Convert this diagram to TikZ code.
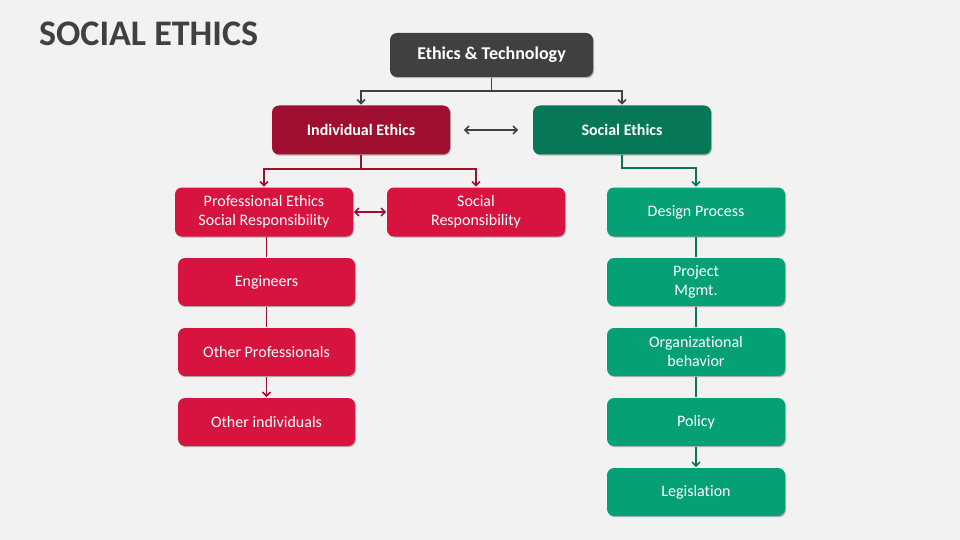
\documentclass[tikz,border=0pt]{standalone}
\usepackage{fontspec}
\setmainfont{Carlito}[Ligatures=NoCommon]
\usetikzlibrary{arrows.meta,shadows}
\definecolor{bgGray}{HTML}{F2F2F2}
\definecolor{titleGray}{HTML}{404040}
\definecolor{techGray}{HTML}{404040}
\definecolor{indivRed}{HTML}{A00E30}
\definecolor{boxRed}{HTML}{D6143F}
\definecolor{socGreen}{HTML}{067858}
\definecolor{boxGreen}{HTML}{06A077}
\tikzset{
  box/.style={rounded corners=7pt, minimum width=178pt, minimum height=49pt, inner sep=2pt,
    text=white, align=center, font=\fontsize{16}{19}\selectfont,
    drop shadow={shadow xshift=1pt, shadow yshift=-1.2pt, opacity=0.25, fill=black}},
  headbox/.style={box, font=\bfseries\fontsize{16}{19}\selectfont},
  tip/.style={-{Straight Barb[length=4pt,width=8pt]}},
  twotips/.style={{Straight Barb[length=4pt,width=8pt]}-{Straight Barb[length=4pt,width=8pt]}},
}
\begin{document}
\begin{tikzpicture}[x=1pt, y=-1pt, line width=1.6pt]
  \fill[bgGray] (0,0) rectangle (960,540);
  \useasboundingbox (0,0) rectangle (960,540);
  \node[anchor=west, text=titleGray, font=\bfseries\fontsize{36}{40}\selectfont] (title) at (35,34) {SOCIAL ETHICS};
  % top level
  \node[headbox, fill=techGray, minimum width=203pt, minimum height=44pt, font=\bfseries\fontsize{18}{21}\selectfont] (tech) at (491.5,55) {Ethics \& Technology};
  \node[headbox, fill=indivRed] (indiv) at (361,130) {Individual Ethics};
  \node[headbox, fill=socGreen] (social) at (622,130) {Social Ethics};
  % individual side
  \node[box, fill=boxRed] (prof) at (264,212) {Professional Ethics\\Social Responsibility};
  \node[box, fill=boxRed] (socresp) at (476,212) {Social\\Responsibility};
  \node[box, fill=boxRed, minimum width=177pt, minimum height=48pt] (eng) at (266.5,282) {Engineers};
  \node[box, fill=boxRed, minimum width=177pt, minimum height=48pt] (othprof) at (266.5,352) {Other Professionals};
  \node[box, fill=boxRed, minimum width=177pt, minimum height=48pt] (othind) at (266.5,422) {Other individuals};
  % social side
  \node[box, fill=boxGreen] (design) at (696,212) {Design Process};
  \node[box, fill=boxGreen, minimum height=48pt] (proj) at (696,282) {Project\\Mgmt.};
  \node[box, fill=boxGreen, minimum height=48pt] (org) at (696,352) {Organizational\\behavior};
  \node[box, fill=boxGreen, minimum height=48pt] (policy) at (696,422) {Policy};
  \node[box, fill=boxGreen, minimum height=48pt] (legis) at (696,492) {Legislation};
  % connectors
  \draw[techGray, tip] (tech.south) -- ++(0,13) -| (indiv.north);
  \draw[techGray, tip] (tech.south) -- ++(0,13) -| (social.north);
  \draw[techGray, twotips, shorten <=13pt, shorten >=14pt] (indiv) -- (social);
  \draw[indivRed, tip] (indiv.south) -- ++(0,14) -| (prof.north);
  \draw[indivRed, tip] (indiv.south) -- ++(0,14) -| (socresp.north);
  \draw[indivRed, twotips] (prof.east) -- (socresp.west);
  \draw[indivRed] (eng.north |- prof.south) -- (eng.north);
  \draw[indivRed] (eng.south) -- (othprof.north);
  \draw[indivRed, tip] (othprof.south) -- (othind.north);
  \draw[socGreen, tip] (social.south) -- ++(0,13) -| (design.north);
  \draw[socGreen] (design.south) -- (proj.north);
  \draw[socGreen] (proj.south) -- (org.north);
  \draw[socGreen] (org.south) -- (policy.north);
  \draw[socGreen, tip] (policy.south) -- (legis.north);
\end{tikzpicture}
\end{document}
